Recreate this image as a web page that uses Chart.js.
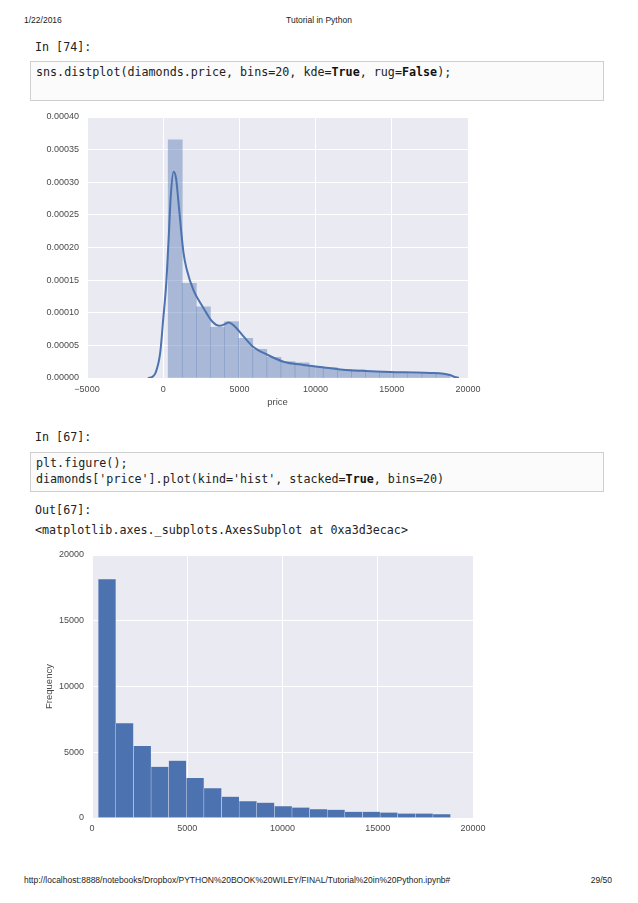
<!DOCTYPE html>
<html>
<head>
<meta charset="utf-8">
<script src="https://cdn.jsdelivr.net/npm/chart.js@4.4.0/dist/chart.umd.min.js"></script>
<style>
  body { margin: 0; background: #fff; }
  #page { position: relative; width: 638px; height: 903px; overflow: hidden; }
  .hdr { position: absolute; font-family: "Liberation Sans", Arial, sans-serif; font-size: 8.5px; line-height: 12px; color: #222; }
  .mono { position: absolute; font-family: "DejaVu Sans Mono", monospace; font-size: 11.7px; line-height: 16px; color: #222; white-space: pre; }
  .box { position: absolute; left: 30px; width: 567px; height: 38px; border: 1px solid #cfcfcf; background: #fbfbfb; padding: 0 0 0 5px; }
  .box .mono { position: static; }
  b { font-weight: bold; color: #111; }
  canvas { position: absolute; }
</style>
</head>
<body>
<div id="page">
  <div class="hdr" style="left:24px; top:14px;">1/22/2016</div>
  <div class="hdr" style="left:0; width:638px; text-align:center; top:14px;">Tutorial in Python</div>

  <div class="mono" style="left:35px; top:39px;">In [74]:</div>
  <div class="box" style="top:61px;"><div class="mono" style="padding-top:2px;">sns.distplot(diamonds.price, bins=20, kde=<b>True</b>, rug=<b>False</b>);
</div></div>

  <canvas id="chart1" width="460" height="302" style="left:40px; top:108px; width:460px; height:302px;"></canvas>

  <div class="mono" style="left:35px; top:429px;">In [67]:</div>
  <div class="box" style="top:452px;"><div class="mono" style="padding-top:2px;">plt.figure();
diamonds['price'].plot(kind='hist', stacked=<b>True</b>, bins=20)</div></div>
  <div class="mono" style="left:35px; top:502px;">Out[67]:</div>
  <div class="mono" style="left:35px; top:522px;">&lt;matplotlib.axes._subplots.AxesSubplot at 0xa3d3ecac&gt;</div>

  <canvas id="chart2" width="460" height="295" style="left:40px; top:548px; width:460px; height:295px;"></canvas>

  <div class="hdr" style="left:24px; top:874px;">http://localhost:8888/notebooks/Dropbox/PYTHON%20BOOK%20WILEY/FINAL/Tutorial%20in%20Python.ipynb#</div>
  <div class="hdr" style="right:26px; top:874px;">29/50</div>
</div>
<script>
// price range of the diamonds data, split in 20 bins
const priceMin = 326
const priceMax = 18823
const nBins = 20

// sns.distplot histogram (density)
const densityValues = [0.000365, 0.000145, 0.000109, 0.0000778, 0.0000863, 0.0000608, 0.000044, 0.0000317, 0.000025, 0.0000233,
                       0.0000178, 0.0000158, 0.0000133, 0.0000124, 0.0000094, 0.0000094, 0.0000084, 0.0000068, 0.0000068, 0.0000058]

// kde curve
const kdeX = [-1000, -700, -500, -200, 0, 200, 350, 500, 680, 850, 1000, 1330, 1550, 2000, 2650, 3200, 3700, 4000, 4300, 4700,
              5300, 5900, 6800, 7900, 9200, 10300, 11800, 13000, 14900, 16500, 17500, 18400, 18800, 19100, 19400]
const kdeY = [0, 0.000002, 0.000008, 0.000038, 0.00009, 0.000145, 0.00021, 0.00028, 0.000316, 0.000305, 0.00027, 0.000192, 0.000166,
              0.000134, 0.000107, 0.000087, 0.00008, 0.000082, 0.000085, 0.000079, 0.000063, 0.000048, 0.000036, 0.000025, 0.00002,
              0.000017, 0.0000127, 0.000011, 0.0000092, 0.0000085, 0.0000078, 0.0000066, 0.0000045, 0.000002, 0]

// pandas hist (counts)
const freqValues = [18150, 7200, 5475, 3900, 4360, 3040, 2260, 1620, 1270, 1165, 890, 790, 665, 620, 470, 470, 420, 340, 340, 290]

const x1Ticks = [-5000, 0, 5000, 10000, 15000, 20000]
const y1Ticks = [0, 0.00005, 0.0001, 0.00015, 0.0002, 0.00025, 0.0003, 0.00035, 0.0004]
const x2Ticks = [0, 5000, 10000, 15000, 20000]
const y2Ticks = [0, 5000, 10000, 15000, 20000]

const binWidth = (priceMax - priceMin) / nBins
const binCenters = []
for (let i = 0; i < nBins; i++) {
    binCenters.push(priceMin + binWidth * (i + 0.5))
}

const tickFont = { family: 'Liberation Sans, Arial, sans-serif', size: 9 }
const tickColor = '#4a4a4a'

const bgPlugin = {
    id: 'bg',
    beforeDraw(chart) {
        const a = chart.chartArea
        const c = chart.ctx
        c.save()
        c.fillStyle = '#EAEAF2'
        c.fillRect(a.left, a.top, a.right - a.left, a.bottom - a.top)
        c.restore()
    }
}

function fixTicks(list) {
    return (axis) => { axis.ticks = list.map(v => ({ value: v })) }
}

// x axis: fixed height and no extra room for the end labels
function fitX(h) {
    return (s) => {
        s.height = h
        s.paddingLeft = 0
        s.paddingRight = 0
    }
}

function fitY(w) {
    return (s) => {
        s.width = w
        s.paddingTop = 0
        s.paddingBottom = 0
    }
}

function plain(v) {
    return v < 0 ? '\u2212' + Math.abs(v) : String(v)
}

Chart.defaults.animation = false

new Chart(document.getElementById('chart1'), {
    type: 'bar',
    data: {
        datasets: [{
            type: 'line',
            data: kdeX.map((x, i) => ({ x: x, y: kdeY[i] })),
            borderColor: '#4C72B0',
            borderWidth: 2,
            pointRadius: 0,
            cubicInterpolationMode: 'monotone',
            fill: false,
            order: 0
        }, {
            type: 'bar',
            data: binCenters.map((x, i) => ({ x: x, y: densityValues[i] })),
            backgroundColor: 'rgba(76,114,176,0.42)',
            borderWidth: 0,
            barPercentage: 1,
            categoryPercentage: 1,
            order: 1
        }]
    },
    options: {
        responsive: false,
        layout: { padding: { top: 9, right: 32, left: 0, bottom: 0 } },
        plugins: { legend: { display: false }, tooltip: { enabled: false } },
        scales: {
            x: {
                type: 'linear', min: -5000, max: 20000, offset: false,
                afterBuildTicks: fixTicks(x1Ticks),
                afterFit: fitX(32),
                grid: { color: '#ffffff', lineWidth: 1, drawTicks: false, offset: false },
                border: { display: false },
                ticks: { font: tickFont, color: tickColor, padding: 6, maxRotation: 0, callback: plain },
                title: { display: true, text: 'price', font: { family: 'Liberation Sans, Arial, sans-serif', size: 9.5 }, color: tickColor, padding: { top: 0, bottom: 2 } }
            },
            y: {
                min: 0, max: 0.0004,
                afterBuildTicks: fixTicks(y1Ticks),
                afterFit: fitY(47),
                grid: { color: '#ffffff', lineWidth: 1, drawTicks: false },
                border: { display: false },
                ticks: { font: tickFont, color: tickColor, padding: 8, callback: (v) => v.toFixed(5) }
            }
        }
    },
    plugins: [bgPlugin]
})

new Chart(document.getElementById('chart2'), {
    type: 'bar',
    data: {
        datasets: [{
            data: binCenters.map((x, i) => ({ x: x, y: freqValues[i] })),
            backgroundColor: '#4C72B0',
            borderColor: 'rgba(234,234,242,0.8)',
            borderWidth: { left: 0.5, right: 0.5, top: 0, bottom: 0 },
            barPercentage: 1,
            categoryPercentage: 1
        }]
    },
    options: {
        responsive: false,
        layout: { padding: { top: 7, right: 27, left: 0, bottom: 0 } },
        plugins: { legend: { display: false }, tooltip: { enabled: false } },
        scales: {
            x: {
                type: 'linear', min: 0, max: 20000, offset: false,
                afterBuildTicks: fixTicks(x2Ticks),
                afterFit: fitX(25),
                grid: { color: '#ffffff', lineWidth: 1, drawTicks: false, offset: false },
                border: { display: false },
                ticks: { font: tickFont, color: tickColor, padding: 5, maxRotation: 0, callback: plain }
            },
            y: {
                min: 0, max: 20000,
                afterBuildTicks: fixTicks(y2Ticks),
                afterFit: fitY(52),
                grid: { color: '#ffffff', lineWidth: 1, drawTicks: false },
                border: { display: false },
                ticks: { font: tickFont, color: tickColor, padding: 8, callback: plain },
                title: { display: true, text: 'Frequency', font: { family: 'Liberation Sans, Arial, sans-serif', size: 9.5 }, color: tickColor, padding: { top: 4, bottom: 0 } }
            }
        }
    },
    plugins: [bgPlugin]
})
</script>
</body>
</html>
